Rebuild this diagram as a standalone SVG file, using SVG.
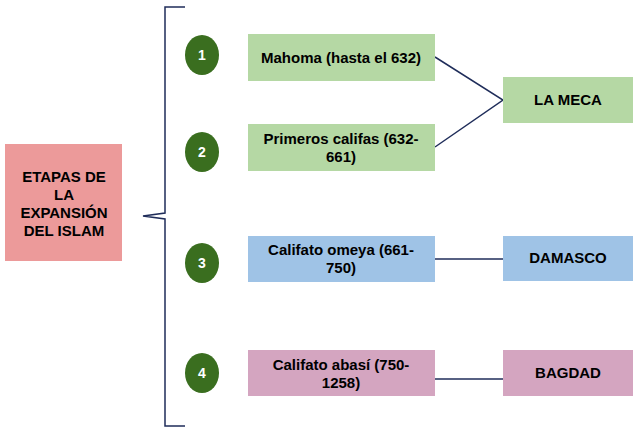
<svg xmlns="http://www.w3.org/2000/svg" width="640" height="436" viewBox="0 0 640 436">
<style>
text{font-family:"Liberation Sans",Arial,sans-serif;font-weight:bold;font-size:15px;fill:#000;text-anchor:middle}
.c{fill:#3a6e1f}
.c+text{fill:#fff;font-size:14px}
.g{fill:#b5d8a4}.b{fill:#9fc3e6}.p{fill:#d4a5c0}.r{fill:#ec9a9a}
.ln{stroke:#1f2d5a;stroke-width:1.5;fill:none}
</style>
<rect width="640" height="436" fill="#fff"/>
<g id="connectors">
<path class="ln" d="M185,7 H165 V213 L143,216 L165,219 V426 H185" stroke-width="2.5"/>
<path class="ln" d="M435,57 L503,100 L435,147"/>
<path class="ln" d="M435,259 H503"/>
<path class="ln" d="M435,379 H503"/>
</g>
<g id="root"><rect class="r" x="5" y="144" width="117" height="117"/><text x="64" y="182">ETAPAS DE</text><text x="64" y="200">LA</text><text x="64" y="218">EXPANSIÓN</text><text x="64" y="236">DEL ISLAM</text></g>
<g id="n1"><ellipse class="c" cx="202" cy="55" rx="17" ry="20"/><text x="202" y="60">1</text></g>
<g id="n2"><ellipse class="c" cx="202" cy="152" rx="17" ry="20"/><text x="202" y="157">2</text></g>
<g id="n3"><ellipse class="c" cx="202" cy="263" rx="17" ry="20"/><text x="202" y="268">3</text></g>
<g id="n4"><ellipse class="c" cx="202" cy="373" rx="17" ry="20"/><text x="202" y="378">4</text></g>
<g id="b1"><rect class="g" x="248" y="34" width="187" height="47"/><text x="341" y="63">Mahoma (hasta el 632)</text></g>
<g id="b2"><rect class="g" x="248" y="124" width="187" height="47"/><text x="341" y="144">Primeros califas (632-</text><text x="341" y="162">661)</text></g>
<g id="b3"><rect class="b" x="248" y="236" width="187" height="46"/><text x="341" y="255">Califato omeya (661-</text><text x="341" y="273">750)</text></g>
<g id="b4"><rect class="p" x="248" y="350" width="187" height="46"/><text x="341" y="370">Califato abasí (750-</text><text x="341" y="388">1258)</text></g>
<g id="meca"><rect class="g" x="503" y="77" width="130" height="46"/><text x="568" y="105">LA MECA</text></g>
<g id="damasco"><rect class="b" x="503" y="236" width="130" height="45"/><text x="568" y="263">DAMASCO</text></g>
<g id="bagdad"><rect class="p" x="503" y="350" width="130" height="46"/><text x="568" y="378">BAGDAD</text></g>
</svg>
